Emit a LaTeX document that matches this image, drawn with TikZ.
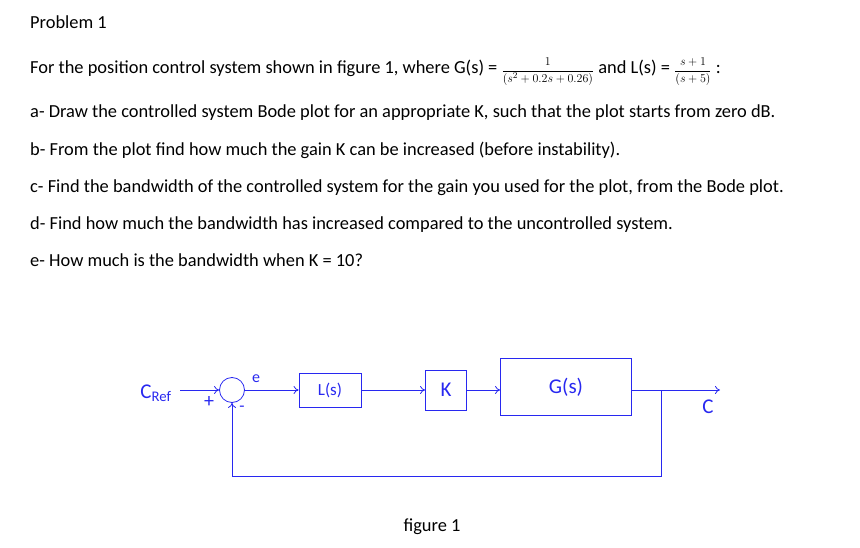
\documentclass[tikz,border=0pt]{standalone}
\usepackage{fontspec}
\setmainfont{Carlito}
\usetikzlibrary{positioning, arrows.meta}
\definecolor{diagblue}{RGB}{40,40,240}
\newcommand{\fracbox}[2]{{\fontsize{13}{15}\selectfont$\displaystyle\frac{#1}{#2}$}}
\begin{document}
\begin{tikzpicture}[x=1pt,y=-1pt,
    txt/.style={anchor=base west, inner sep=0pt, font=\fontsize{18.4}{22}\selectfont},
    blk/.style={draw=diagblue, thick, text=diagblue, inner sep=0pt},
    sig/.style={draw=diagblue, thick, -{To[length=5pt,width=8pt]}},
    lbl/.style={text=diagblue, inner sep=0pt}]
    \useasboundingbox (0,0) rectangle (860,548);
    % problem text
    \node[txt] at (30,29) {Problem 1};
    \node[txt] (intro) at (30,74) {For the position control system shown in figure 1, where G(s) = \fracbox{1}{(s^2+0.2s+0.26)} and L(s) = \fracbox{s+1}{(s+5)} :};
    \node[txt] at (30,118) {a- Draw the controlled system Bode plot for an appropriate  K, such that the plot starts from zero dB.};
    \node[txt] at (30,156) {b- From the plot find how much the gain K can be increased (before instability).};
    \node[txt] at (30,193) {c- Find the bandwidth of the controlled system for the gain you used for the plot, from the Bode plot.};
    \node[txt] at (30,230) {d- Find how much the bandwidth has increased compared to the uncontrolled system.};
    \node[txt] at (30,267) {e- How much is the bandwidth when K = 10?};
    % block diagram
    \coordinate (in) at (180,390);
    \node[blk, circle, minimum size=25pt] (sum) at (232,390) {};
    \node[blk, minimum width=62pt, minimum height=34pt, font=\fontsize{17}{19}\selectfont] (L) at (330,390) {L(s)};
    \node[blk, minimum width=41pt, minimum height=40pt, font=\fontsize{21}{23}\selectfont] (K) at (446,390) {K};
    \node[blk, minimum width=131pt, minimum height=57pt, font=\fontsize{21}{23}\selectfont] (G) at (566,387) {G(s)};
    \coordinate (out) at (720,390);
    \coordinate (br) at (661,390);
    \coordinate (low) at (661,476);
    \draw[sig] (in) -- (sum);
    \draw[sig] (sum) -- (L);
    \draw[sig] (L) -- (K);
    \draw[sig] (K) -- (G.west |- K.east);
    \draw[sig] (G.east |- br) -- (out);
    \draw[sig] (br) -- (low) -- (sum.south |- low) -- (sum);
    \node[lbl, font=\fontsize{21}{23}\selectfont] at (156,393) {C\textsubscript{Ref}};
    \node[lbl, font=\fontsize{20}{22}\selectfont] at (209,402) {+};
    \node[lbl, font=\fontsize{17}{19}\selectfont] at (242,409) {-};
    \node[lbl, font=\fontsize{16}{18}\selectfont] at (256,379) {e};
    \node[lbl, font=\fontsize{21}{23}\selectfont] at (708,407) {C};
    \node[font=\fontsize{18.4}{22}\selectfont] at (432,527) {figure 1};
\end{tikzpicture}
\end{document}
